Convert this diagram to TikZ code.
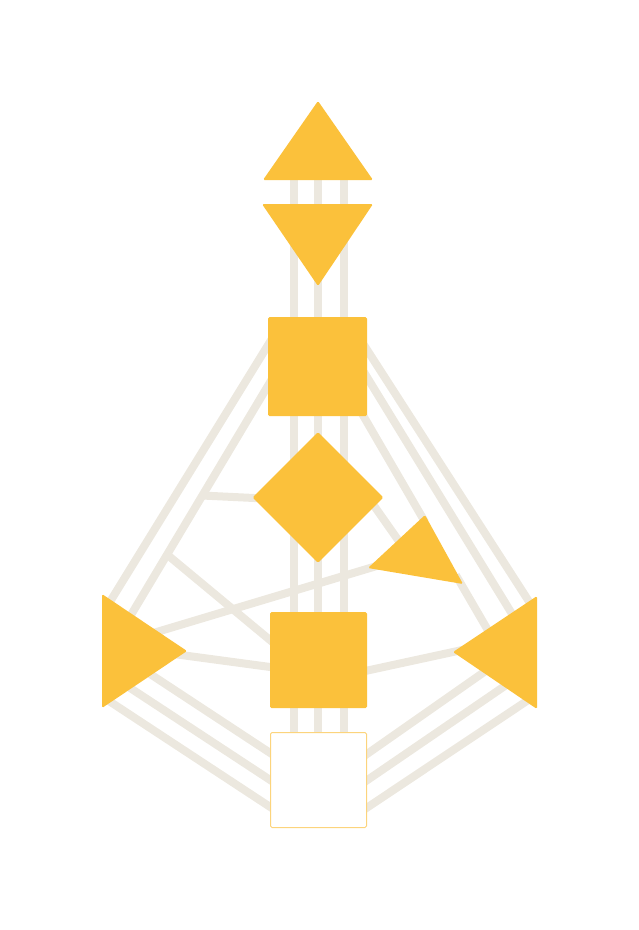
\documentclass[tikz,border=0pt]{standalone}
\usetikzlibrary{calc,shapes.geometric}

\definecolor{centrec}{HTML}{FBC13B}
\definecolor{chanc}{HTML}{ECE8DF}
\definecolor{rootc}{HTML}{FCD47C}

\begin{document}
\begin{tikzpicture}[x=1pt,y=-1pt,
    chan/.style={draw=chanc, line width=8pt},
    centre/.style={fill=centrec, rounded corners=1.5pt},
    box/.style={rectangle, fill=centrec, inner sep=0pt, rounded corners=1.5pt},
    gem/.style={diamond, fill=centrec, inner sep=0pt, rounded corners=1.5pt}]
  \useasboundingbox (0,0) rectangle (639,930);

  % gates
  \coordinate (g16) at (273,337);   \coordinate (g48) at (108,605);
  \coordinate (g20) at (272,379);   \coordinate (g57) at (125,625);
  \coordinate (j10) at (202,495.5); \coordinate (g10) at (275,499);
  \coordinate (j34) at (167,554.5); \coordinate (g34) at (285,652.5);
  \coordinate (g27) at (170,653.5); \coordinate (g50) at (285,669);
  \coordinate (g44) at (140,637);   \coordinate (g26) at (385,563.5);
  \coordinate (g32) at (135,664);   \coordinate (g54) at (290,766);
  \coordinate (g28) at (115,678);   \coordinate (g38) at (290,793);
  \coordinate (g18) at (106,699);   \coordinate (g58) at (290,820);
  \coordinate (g49) at (495,664.4); \coordinate (g19) at (347,768);
  \coordinate (g55) at (515,679);   \coordinate (g39) at (347,794);
  \coordinate (g30) at (532,697.5); \coordinate (g41) at (347,821);
  \coordinate (g59) at (350,674.3); \coordinate (g6)  at (470,648.3);
  \coordinate (g35) at (362,342);   \coordinate (g36) at (530.6,604);
  \coordinate (g12) at (362,369);   \coordinate (g22) at (517,622);
  \coordinate (g45) at (357,405);   \coordinate (g21) at (425,522);
  \coordinate (g40) at (455.8,575); \coordinate (g37) at (493.6,640);
  \coordinate (g25) at (363,490);   \coordinate (g51) at (408.6,555);

  % channels
  \foreach \x [count=\i] in {294,318,344} {
    \coordinate (top\i) at (\x,172);
    \coordinate (bot\i) at (\x,745);
    \draw [chan] (top\i) -- (bot\i);
  }
  \draw [chan] (g16) -- (g48);
  \draw [chan] (g20) -- (g57);
  \draw [chan] (j10) -- (g10);
  \draw [chan] (j34) -- (g34);
  \draw [chan] (g27) -- (g50);
  \draw [chan] (g44) -- (g26);
  \draw [chan] (g32) -- (g54);
  \draw [chan] (g28) -- (g38);
  \draw [chan] (g18) -- (g58);
  \draw [chan] (g49) -- (g19);
  \draw [chan] (g55) -- (g39);
  \draw [chan] (g30) -- (g41);
  \draw [chan] (g59) -- (g6);
  \draw [chan] (g35) -- (g36);
  \draw [chan] (g12) -- (g22);
  \draw [chan] (g45) -- (g21);
  \draw [chan] (g40) -- (g37);
  \draw [chan] (g25) -- (g51);

  % centres
  \fill [centre] (318,101) -- (373,180) -- (263,180) -- cycle;
  \fill [centre] (262,204) -- (373,204) -- (318,286) -- cycle;
  \node [box, minimum width=99pt, minimum height=99pt] (throat) at (317.5,366.5) {};
  \node [gem, minimum width=131pt, minimum height=131pt] (self) at (318,497.5) {};
  \fill [centre] (425,515) -- (463,584) -- (368,568) -- cycle;
  \node [box, minimum width=97pt, minimum height=96pt] (sacral) at (318.5,660) {};
  \node [rectangle, draw=rootc, fill=white, line width=1pt, inner sep=0pt,
    rounded corners=1.5pt, minimum width=96pt, minimum height=95pt] (root) at (318.5,780) {};
  \fill [centre] (102,594) -- (187,651) -- (102,708) -- cycle;
  \fill [centre] (537,596) -- (537,709) -- (453,652) -- cycle;
\end{tikzpicture}
\end{document}
